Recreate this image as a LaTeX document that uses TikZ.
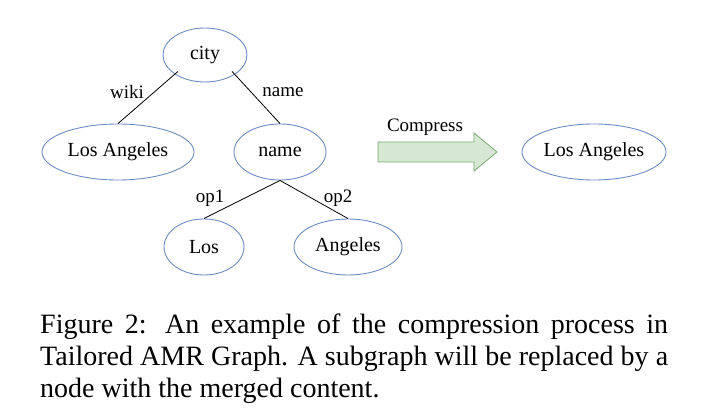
\documentclass[tikz,border=0pt]{standalone}
\usepackage{fontspec}
\setmainfont{Liberation Serif}
\usetikzlibrary{shapes.geometric}
\definecolor{ebl}{RGB}{108,140,196}
\definecolor{agf}{RGB}{214,232,212}
\definecolor{agd}{RGB}{120,170,110}
\tikzset{
 el/.style={ellipse,draw=ebl,line width=0.9pt,inner sep=0pt,font=\fontsize{20}{23}\selectfont},
 lab/.style={font=\fontsize{19}{22}\selectfont,inner sep=1pt},
 ed/.style={line width=0.8pt},
 captext/.style={font=\fontsize{28}{32}\selectfont,anchor=base west,inner sep=0pt}
}
\begin{document}
\begin{tikzpicture}[x=1pt,y=-1pt]
\useasboundingbox (0,0) rectangle (705,419);
\node[el,minimum width=84pt,minimum height=54pt] (city) at (205,55) {city};
\node[el,minimum width=152pt,minimum height=56pt] (la) at (118,152) {Los Angeles};
\node[el,minimum width=92pt,minimum height=56pt] (name) at (280,152) {name};
\node[el,minimum width=80pt,minimum height=56pt] (los) at (204,247) {Los};
\node[el,minimum width=108pt,minimum height=56pt] (ang) at (348,247) {Angeles};
\node[el,minimum width=144pt,minimum height=56pt] (la2) at (594,152) {Los Angeles};
\coordinate (nb) at (name.south);
\draw[ed] (city.south west) ++(3,-3) -- (la.north);
\draw[ed] (city.south east) ++(-3,-3) -- (name.north);
\draw[ed] (nb) -- (los.north);
\draw[ed] (nb) -- (ang.north);
\node[lab] (w) at (127,92) {wiki};
\node[lab] (n) at (283,92) {name};
\node[lab] (o1) at (210,198) {op1};
\node[lab] (o2) at (338,198) {op2};
\draw[agd,fill=agf,line width=0.8pt] (378,142) -- (474,142) -- (474,133) -- (497,152) -- (474,171) -- (474,162) -- (378,162) -- cycle;
\node[lab] (cmp) at (425,127) {Compress};
\node[captext] (c1) at (40,334) {\makebox[628pt][s]{Figure 2: An example of the compression process in}};
\node[captext] (c2) at (40,366) {\makebox[628pt][s]{Tailored AMR Graph. A subgraph will be replaced by a}};
\node[captext] (c3) at (40,398) {node with the merged content.};
\end{tikzpicture}
\end{document}
